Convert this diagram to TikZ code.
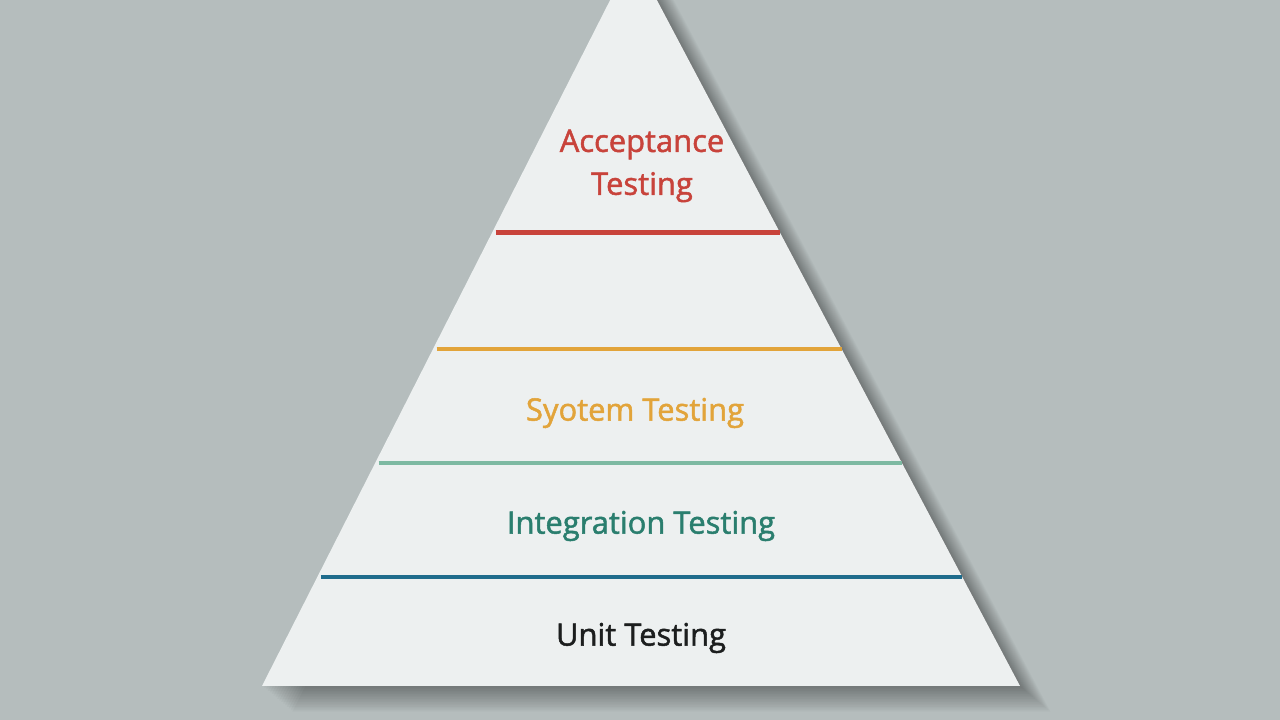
\documentclass[tikz,border=0pt]{standalone}
\usepackage{fontspec}
\setmainfont{Open Sans}
\newfontfamily\lblfont{Open Sans}[FakeBold=1.6]
\usepackage{tikz}
\usetikzlibrary{positioning}
\definecolor{bgGrey}{HTML}{B5BDBD}
\definecolor{pyrFill}{HTML}{EDF0F0}
\definecolor{accRed}{HTML}{C8433B}
\definecolor{sysOrange}{HTML}{E2A43A}
\definecolor{intGreen}{HTML}{7DB9A2}
\definecolor{intText}{HTML}{2A7E6E}
\definecolor{unitBlue}{HTML}{1F6C8C}
\definecolor{unitText}{HTML}{1C1E1E}

\begin{document}
\begin{tikzpicture}[
      lvl/.style={line width=1.3pt},
      lbl/.style={font=\lblfont\fontsize{8.8}{12.2}\selectfont, align=center}
    ]
      \clip (0,0) rectangle (12.8,7.2);
      \fill[bgGrey] (0,0) rectangle (12.8,7.2);

      \coordinate (L) at (2.62,0.34);
      \coordinate (R) at (10.20,0.34);
      \coordinate (A) at (6.33,7.65);

      % soft shadow, right and below
      \foreach \s in {1,...,16} {
        \fill[black, opacity=0.022]
          ([shift={(0.019*\s,-0.016*\s)}]L) -- ([shift={(0.019*\s,-0.016*\s)}]R)
          -- ([shift={(0.019*\s,-0.016*\s)}]A) -- cycle;
      }
      \fill[pyrFill] (L) -- (R) -- (A) -- cycle;

      % layer lines
      \foreach \t/\c/\n in {0.620/accRed/acc,0.461/sysOrange/sys,0.305/intGreen/int,0.149/unitBlue/unit} {
        \path (L) -- (A) coordinate[pos=\t] (\n l);
        \path (R) -- (A) coordinate[pos=\t] (\n r);
        \draw[lvl, \c] ([xshift=1pt]\n l) -- (\n r);
      }

      \node[lbl, text=accRed] (acc) at (6.42,5.54){Acceptance\\Testing};
      \node[lbl, text=sysOrange] (sys) at (6.35,3.07){Syotem Testing};
      \node[lbl, text=intText] (int) at (6.41,1.94){Integration Testing};
      \node[lbl, text=unitText] (unit) at (6.41,0.82){Unit Testing};
    \end{tikzpicture}
\end{document}
